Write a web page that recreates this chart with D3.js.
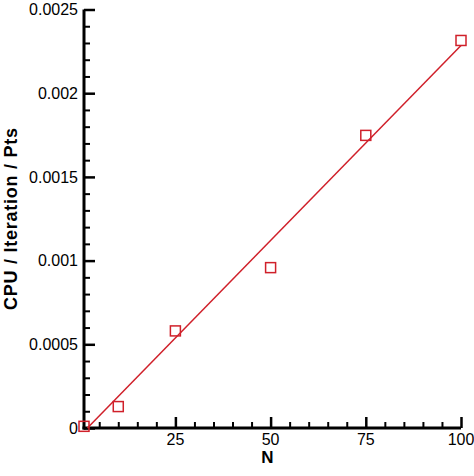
<!DOCTYPE html>
<html>
<head>
<meta charset="utf-8">
<script src="https://cdn.jsdelivr.net/npm/d3@7"></script>
<style>
  body { margin: 0; background: #fff; }
  svg { display: block; font-family: "Liberation Sans", Arial, Helvetica, sans-serif; }
</style>
</head>
<body>
<div id="chart"></div>
<script>
// measured points
const nValues = [1, 10, 25, 50, 75, 100];
const cpuValues = [0.00001, 0.000128, 0.00058, 0.000958, 0.001748, 0.002315];

// linear fit line, endpoints
const fitN = [1.9, 100];
const fitCpu = [0, 0.002285];

const xMajorTicks = [25, 50, 75, 100];
const yMajorTicks = [0, 0.0005, 0.001, 0.0015, 0.002, 0.0025];
const yTickLabels = ["0", "0.0005", "0.001", "0.0015", "0.002", "0.0025"];

const width = 474, height = 476;
const red = "#d0202a";

const svg = d3.select("#chart").append("svg")
  .attr("width", width)
  .attr("height", height);

const x = d3.scaleLinear().domain([1, 100]).range([84, 461]);
const y = d3.scaleLinear().domain([0, 0.0025]).range([428, 9.5]);

// minor ticks
const xMinor = d3.range(5, 100, 5).filter(v => !xMajorTicks.includes(v));
const yMinor = d3.range(1, 25).filter(v => v % 5 !== 0).map(v => v * 0.0001);

// y axis ticks point inward (right)
svg.append("g")
  .attr("transform", `translate(${x(1)},0)`)
  .call(d3.axisRight(y).tickValues(yMinor).tickSize(6).tickFormat(""))
  .call(g => g.select(".domain").remove())
  .call(g => g.selectAll("line").attr("stroke", "#000").attr("stroke-width", 2));

svg.append("g")
  .attr("transform", `translate(${x(1)},0)`)
  .call(d3.axisRight(y).tickValues(yMajorTicks).tickSize(11).tickFormat(""))
  .call(g => g.select(".domain").remove())
  .call(g => g.selectAll("line").attr("stroke", "#000").attr("stroke-width", 2.5));

// y tick labels on the left
svg.append("g")
  .selectAll("text")
  .data(yMajorTicks)
  .join("text")
  .attr("x", x(1) - 6)
  .attr("y", d => y(d))
  .attr("dy", "0.36em")
  .attr("text-anchor", "end")
  .style("font-size", "16px")
  .text((d, i) => yTickLabels[i]);

// x axis ticks point inward (up)
svg.append("g")
  .attr("transform", `translate(0,${y(0)})`)
  .call(d3.axisTop(x).tickValues(xMinor).tickSize(6).tickFormat(""))
  .call(g => g.select(".domain").remove())
  .call(g => g.selectAll("line").attr("stroke", "#000").attr("stroke-width", 2));

svg.append("g")
  .attr("transform", `translate(0,${y(0)})`)
  .call(d3.axisTop(x).tickValues(xMajorTicks).tickSize(11).tickFormat(""))
  .call(g => g.select(".domain").remove())
  .call(g => g.selectAll("line").attr("stroke", "#000").attr("stroke-width", 2.5));

svg.append("g")
  .selectAll("text")
  .data(xMajorTicks)
  .join("text")
  .attr("x", d => x(d))
  .attr("y", 445)
  .attr("text-anchor", "middle")
  .style("font-size", "16px")
  .text(d => d);

// axis lines
svg.append("line")
  .attr("x1", x(1)).attr("x2", x(1))
  .attr("y1", y(0) + 1.5).attr("y2", y(0.0025))
  .attr("stroke", "#000").attr("stroke-width", 3);
svg.append("line")
  .attr("x1", x(1) - 1.5).attr("x2", x(100))
  .attr("y1", y(0)).attr("y2", y(0))
  .attr("stroke", "#000").attr("stroke-width", 3);

// fit line
svg.append("path")
  .datum(fitN.map((n, i) => [n, fitCpu[i]]))
  .attr("fill", "none")
  .attr("stroke", red)
  .attr("stroke-width", 1.5)
  .attr("d", d3.line().x(d => x(d[0])).y(d => y(d[1])));

// square markers
svg.append("g")
  .selectAll("rect")
  .data(nValues.map((n, i) => [n, cpuValues[i]]))
  .join("rect")
  .attr("x", d => x(d[0]) - 5)
  .attr("y", d => y(d[1]) - 5)
  .attr("width", 10)
  .attr("height", 10)
  .attr("fill", "none")
  .attr("stroke", red)
  .attr("stroke-width", 1.5);

// axis titles
svg.append("text")
  .attr("x", 267.5)
  .attr("y", 463)
  .attr("text-anchor", "middle")
  .style("font-size", "17px")
  .style("font-weight", "bold")
  .text("N");

svg.append("text")
  .attr("transform", "translate(17,219) rotate(-90)")
  .attr("text-anchor", "middle")
  .attr("textLength", 182)
  .attr("lengthAdjust", "spacing")
  .style("font-size", "18px")
  .style("font-weight", "bold")
  .text("CPU / Iteration / Pts");
</script>
</body>
</html>
